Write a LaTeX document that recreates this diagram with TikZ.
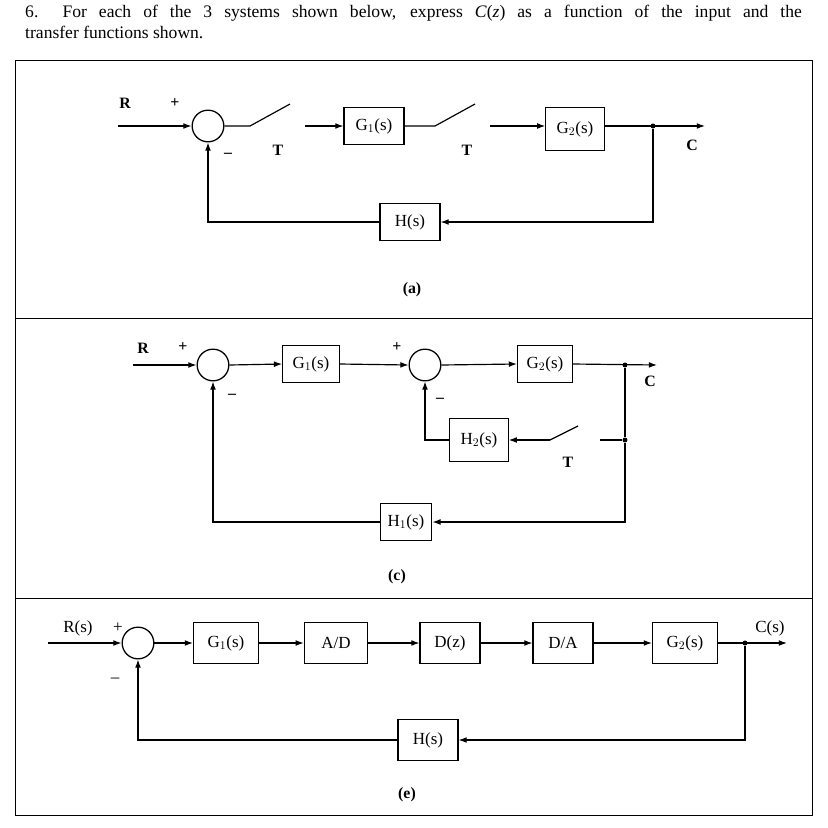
\documentclass[tikz,border=0pt]{standalone}
\usepackage{fontspec}
\setmainfont{Liberation Serif}
\usetikzlibrary{arrows.meta}
\begin{document}
\begin{tikzpicture}[x=0.03cm,y=-0.03cm,
  blk/.style={draw,line width=0.9pt,minimum height=1.1cm,inner sep=2pt,font=\fontsize{14.5}{14.5}\selectfont},
  sum/.style={draw,circle,line width=1.1pt,minimum size=0.95cm,inner sep=0pt},
  ln/.style={line width=1pt},
  ar/.style={ln,-{Latex[length=7pt,width=5pt]}},
  lb/.style={font=\fontsize{13.5}{13.5}\selectfont\bfseries},
  dot/.style={circle,fill,inner sep=1.5pt}]
\useasboundingbox (0,0) rectangle (828,828);
\node[anchor=north west,text width=23.3cm,align=justify,font=\fontsize{15}{18}\selectfont,inner sep=0pt] (hdr) at (25,5) {\hangindent=0.8cm\hangafter=1 6.\ \ For each of the 3 systems shown below, express \textit{C}(\textit{z}) as a function of the input and the\linebreak transfer functions shown.};
\draw[line width=0.7pt] (15,60) rectangle (812,815);
\draw[line width=0.7pt] (15,318) -- (812,318) (15,598) -- (812,598);
% (a)
\node[lb] (aR) at (125,103) {R};
\node[lb] (ap) at (175,103) {+};
\coordinate (ain) at (118,126);
\node[sum] (as) at (208,126) {};
\coordinate (aw1) at (250,126); \coordinate (aw1e) at (290,104);
\coordinate (aw1o) at (305,126);
\node[blk,minimum width=1.8cm] (aG1) at (374,126) {G$_1$(s)};
\coordinate (aw2) at (435,126); \coordinate (aw2e) at (475,104);
\coordinate (aw2o) at (490,126);
\node[blk,minimum width=1.75cm,minimum height=1.3cm] (aG2) at (575,129) {G$_2$(s)};
\node[dot] (ad) at (653,126) {};
\coordinate (aout) at (705,126);
\node[lb] at (692,145) {C};
\node[lb] at (278,150) {T};
\node[lb] at (467,150) {T};
\node[lb] at (228,155) {--};
\node[blk,minimum width=1.8cm] (aH) at (410,222) {H(s)};
\coordinate (ab1) at (653,222); \coordinate (ab2) at (208,222);
\draw[ar] (ain) -- (as.west);
\draw[ln] (as.east) -- (aw1) -- (aw1e);
\draw[ar] (aw1o) -- (aG1.west);
\draw[ln] (aG1.east) -- (aw2) -- (aw2e);
\draw[ar] (aw2o) -- (aG2.west |- aw2o);
\draw[ar] (aG2.east |- ad) -- (aout);
\draw[ar] (ad) -- (ab1) -- (aH.east);
\draw[ar] (aH.west) -- (ab2) -- (as.south);
\node[lb] at (412,290) {(a)};
% (c)
\node[lb] at (143,348) {R};
\node[lb] at (183,347) {+};
\coordinate (cin) at (133,365);
\node[sum] (cs1) at (213,365) {};
\node[blk,minimum width=1.7cm] (cG1) at (311,364) {G$_1$(s)};
\node[lb] at (397,347) {+};
\node[sum] (cs2) at (425,365) {};
\node[blk,minimum width=1.65cm] (cG2) at (545,364) {G$_2$(s)};
\node[dot] (cd1) at (625,365) {};
\coordinate (cout) at (657,365);
\node[lb] at (650,381) {C};
\node[dot] (cd2) at (625,440) {};
\coordinate (csw1) at (600,440); \coordinate (csw2) at (578,426); \coordinate (csw3) at (550,440);
\node[blk,minimum width=1.75cm,minimum height=1.3cm] (cH2) at (479,440) {H$_2$(s)};
\coordinate (cb1) at (425,440);
\node[lb] at (568,462) {T};
\node[lb] at (440,400) {--};
\node[lb] at (232,396) {--};
\node[blk,minimum width=1.55cm] (cH1) at (406,522) {H$_1$(s)};
\coordinate (cb2) at (625,522); \coordinate (cb3) at (213,522);
\draw[ar] (cin) -- (cs1.west);
\draw[ar] (cs1.east) -- (cG1.west);
\draw[ar] (cG1.east) -- (cs2.west);
\draw[ar] (cs2.east) -- (cG2.west);
\draw[ar] (cG2.east) -- (cout);
\draw[ln] (cd1) -- (cd2) -- (csw1);
\draw[ln] (csw2) -- (csw3);
\draw[ar] (csw3) -- (cH2.east);
\draw[ar] (cH2.west) -- (cb1) -- (cs2.south);
\draw[ar] (cd2) -- (cb2) -- (cH1.east);
\draw[ar] (cH1.west) -- (cb3) -- (cs1.south);
\node[lb] at (397,577) {(c)};
% (e)
\node[font=\fontsize{14.5}{14.5}\selectfont] at (78,628) {R(s)};
\node[font=\fontsize{14.5}{14.5}\selectfont] at (118,628) {+};
\node[font=\fontsize{14.5}{14.5}\selectfont] at (115,680) {--};
\coordinate (ein) at (48,643);
\node[sum] (es) at (138,643) {};
\node[blk,minimum width=1.95cm,minimum height=1.25cm] (eG1) at (226,643) {G$_1$(s)};
\node[blk,minimum width=1.9cm,minimum height=1.25cm] (eAD) at (336,643) {A/D};
\node[blk,minimum width=1.8cm,minimum height=1.25cm] (eD) at (450,643) {D(z)};
\node[blk,minimum width=1.8cm,minimum height=1.25cm] (eDA) at (563,643) {D/A};
\node[blk,minimum width=1.95cm,minimum height=1.25cm] (eG2) at (685,643) {G$_2$(s)};
\node[dot] (ed) at (745,643) {};
\coordinate (eout) at (787,643);
\node[font=\fontsize{14.5}{14.5}\selectfont] at (770,628) {C(s)};
\node[blk,minimum width=1.8cm,minimum height=1.25cm] (eH) at (428,740) {H(s)};
\coordinate (eb1) at (745,740); \coordinate (eb2) at (138,740);
\draw[ar] (ein) -- (es.west);
\draw[ar] (es.east) -- (eG1.west);
\draw[ar] (eG1.east) -- (eAD.west);
\draw[ar] (eAD.east) -- (eD.west);
\draw[ar] (eD.east) -- (eDA.west);
\draw[ar] (eDA.east) -- (eG2.west);
\draw[ar] (eG2.east) -- (eout);
\draw[ar] (ed) -- (eb1) -- (eH.east);
\draw[ar] (eH.west) -- (eb2) -- (es.south);
\node[lb] at (407,795) {(e)};
\end{tikzpicture}
\end{document}
